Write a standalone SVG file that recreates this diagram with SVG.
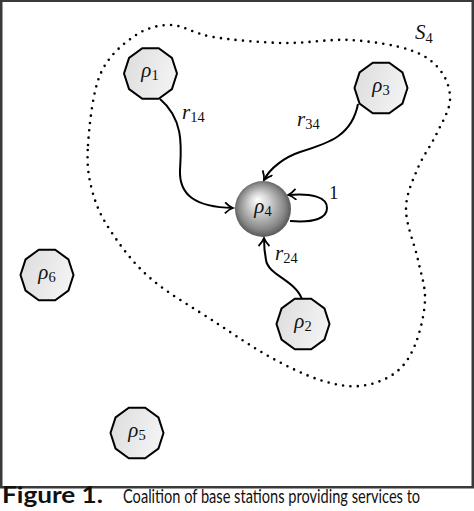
<svg xmlns="http://www.w3.org/2000/svg" width="474" height="511" viewBox="0 0 474 511">
<defs>
<style>
.node{fill:url(#gfill);stroke:#000;stroke-width:2}
.lab{font-family:"Liberation Serif",serif;font-style:italic;font-size:21px;fill:#111}
.sub{font-style:normal;font-size:14.5px}
.edge{fill:none;stroke:#000;stroke-width:2}
.dot{fill:none;stroke:#000;stroke-width:2.6;stroke-linecap:round;stroke-dasharray:0 7.4}
.cap{font-family:Lato,"Open Sans",sans-serif;fill:#111}
</style>
<linearGradient id="gfill" x1="0" y1="0" x2="1" y2="0.3">
<stop offset="0" stop-color="#dcdcdc"/>
<stop offset="1" stop-color="#f2f2f2"/>
</linearGradient>
<radialGradient id="sph" cx="0.5" cy="0.5" r="0.55" fx="0.4" fy="0.33">
<stop offset="0" stop-color="#ffffff"/>
<stop offset="0.3" stop-color="#d6d6d6"/>
<stop offset="0.75" stop-color="#878787"/>
<stop offset="1" stop-color="#464646"/>
</radialGradient>
<polygon id="deca" points="26.5,0 21.44,15.58 8.19,25.2 -8.19,25.2 -21.44,15.58 -26.5,0 -21.44,-15.58 -8.19,-25.2 8.19,-25.2 21.44,-15.58"/>
<marker id="arr" markerWidth="12" markerHeight="12" viewBox="-9 -6 10 12" refX="0" refY="0" orient="auto" markerUnits="userSpaceOnUse">
<path d="M -8 -5.5 C -4.5 -2 -1.5 -0.5 0 0 C -1.5 0.5 -4.5 2 -8 5.5" fill="none" stroke="#000" stroke-width="1.8"/>
</marker>
</defs>
<rect x="1.25" y="0.75" width="471.5" height="486.5" fill="#fff" stroke="#3a3a3a" stroke-width="2.5"/>

<g id="region-S4">
<path class="dot" d="M88,145 C89.33,125.83 92.5,93 100,75 C107.5,57 121.33,45.33 133,37 C144.67,28.67 156.67,25 170,25 C183.33,25 194.17,34 213,37 C231.83,40 260.17,42.5 283,43 C305.83,43.5 328.83,38.83 350,40 C371.17,41.17 395,45 410,50 C425,55 433.33,61.67 440,70 C446.67,78.33 450.5,89.5 450,100 C449.5,110.5 442.5,121.33 437,133 C431.5,144.67 422.17,157.17 417,170 C411.83,182.83 405.83,195 406,210 C406.17,225 414.83,245 418,260 C421.17,275 425.5,285.83 425,300 C424.5,314.17 420,332.83 415,345 C410,357.17 404.17,366.17 395,373 C385.83,379.83 372.5,384.83 360,386 C347.5,387.17 335,384.83 320,380 C305,375.17 287.5,366.67 270,357 C252.5,347.33 235,335.17 215,322 C195,308.83 167.5,293.33 150,278 C132.5,262.67 119.67,244.67 110,230 C100.33,215.33 95.67,204.17 92,190 C88.33,175.83 86.67,164.17 88,145 Z"/>
<text class="lab" x="415" y="39">S<tspan class="sub" dy="4">4</tspan></text>
</g>

<g id="connectors">
<path id="e14" class="edge" marker-end="url(#arr)" d="M 160 99 C 185 120 181 150 180 170 C 179 195 195 207 233 208"/>
<path id="e34" class="edge" marker-end="url(#arr)" d="M 358 104 C 352 135 330 143 300 152 C 285 157 270 168 264 180"/>
<path id="e24" class="edge" marker-end="url(#arr)" d="M 302 299 C 295 280 268 275 266 260 C 264 250 264 245 264 238"/>
<path id="e44" class="edge" marker-end="url(#arr)" d="M 290 221 C 315 223 327 218 327 208 C 327 197 312 193 288 195"/>
<text class="lab" x="182" y="119">r<tspan class="sub" dy="3">14</tspan></text>
<text class="lab" x="297" y="126">r<tspan class="sub" dy="3">34</tspan></text>
<text class="lab" x="275" y="260">r<tspan class="sub" dy="3">24</tspan></text>
<text class="lab" x="329" y="199" style="font-style:normal;font-size:19px">1</text>
</g>

<g id="rho1">
<use href="#deca" x="150.5" y="73.5" class="node"/>
<text class="lab" x="150" y="77" text-anchor="middle">ρ<tspan class="sub" dy="3">1</tspan></text>
</g>
<g id="rho3">
<use href="#deca" x="381" y="88" class="node"/>
<text class="lab" x="381" y="92" text-anchor="middle">ρ<tspan class="sub" dy="3">3</tspan></text>
</g>
<g id="rho4">
<circle cx="263" cy="209" r="28" fill="url(#sph)"/>
<text class="lab" x="263" y="213" text-anchor="middle">ρ<tspan class="sub" dy="3">4</tspan></text>
</g>
<g id="rho2">
<use href="#deca" x="303" y="324" class="node"/>
<text class="lab" x="303" y="328" text-anchor="middle">ρ<tspan class="sub" dy="3">2</tspan></text>
</g>
<g id="rho6">
<use href="#deca" x="47" y="275" class="node"/>
<text class="lab" x="47" y="279" text-anchor="middle">ρ<tspan class="sub" dy="3">6</tspan></text>
</g>
<g id="rho5">
<use href="#deca" x="137" y="433" class="node"/>
<text class="lab" x="137" y="437" text-anchor="middle">ρ<tspan class="sub" dy="3">5</tspan></text>
</g>

<text class="cap" x="2" y="503" font-size="22" font-weight="bold" textLength="101" lengthAdjust="spacingAndGlyphs">Figure 1.</text>
<text class="cap" transform="translate(123,503) scale(0.73,1)" x="0" y="0" font-size="20">Coalition of base stations providing services to</text>
</svg>
